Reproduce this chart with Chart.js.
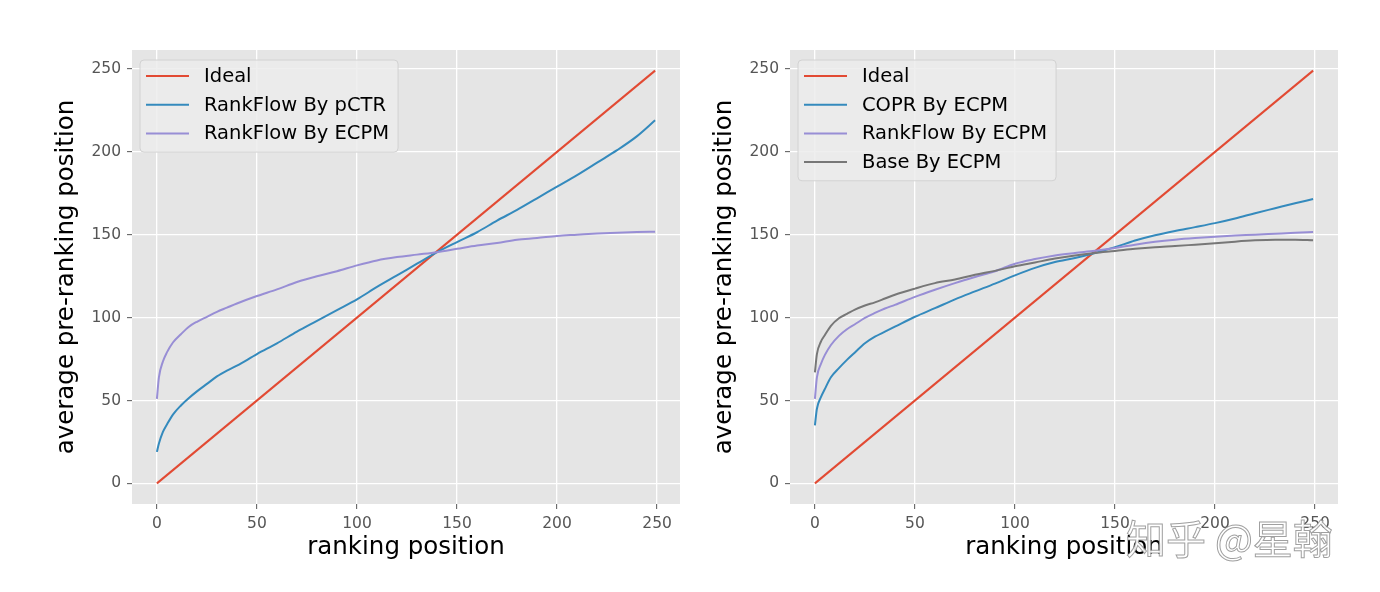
<!DOCTYPE html>
<html>
<head>
<meta charset="utf-8">
<script src="https://cdn.jsdelivr.net/npm/chart.js@4.4.1/dist/chart.umd.min.js"></script>
<style>
  html, body { margin: 0; padding: 0; background: #fff; }
  .wrap { position: relative; width: 1380px; height: 592px; overflow: hidden; }
  canvas { position: absolute; top: 0; }
  #leftChart { left: 0; }
  #rightChart { left: 690px; }
  .mark {
    position: absolute; left: 1126px; top: 508px;
    font: 40px "Noto Sans CJK SC", sans-serif;
    color: rgba(255,255,255,0.9);
    -webkit-text-stroke: 1px rgba(120,120,120,0.7);
    white-space: nowrap;
  }
</style>
</head>
<body>
<div class="wrap">
  <canvas id="leftChart" width="690" height="592"></canvas>
  <canvas id="rightChart" width="690" height="592"></canvas>
  <div class="mark">知乎 @星翰</div>
</div>
<script>
// data
const tickVals = [0, 50, 100, 150, 200, 250];
const ranks = [0, 1, 3, 5, 8, 12, 16, 20, 25, 30, 35, 40, 50, 60, 70, 80, 90, 100,
  110, 120, 130, 140, 150, 160, 170, 180, 190, 200, 210, 220, 230, 240, 249];
const idealRanks = [0, 249];
const idealVals = [0, 249];

// left panel
const rfCtrLeft = [19, 24, 31, 35.5, 41.5, 47, 51.5, 55.5, 60, 64.5, 68, 71, 78, 84.5, 91.5, 98, 104.5, 111,
  118.5, 125.5, 132.5, 139.5, 145.6, 151.5, 158.5, 165, 172, 179, 186, 193.5, 201, 209.5, 219];
const rfEcpmLeft = [51, 64, 73.5, 79, 85, 90, 94.5, 97.5, 100.5, 103.5, 106, 108.5, 113, 117, 121.5, 125, 128, 131.5,
  134.5, 136.5, 138, 139.5, 141.5, 143.5, 145, 147, 148, 149.3, 150, 150.7, 151.2, 151.6, 151.8];

// right panel
const coprEcpm = [35, 45, 52, 57, 64, 69.5, 74.5, 79, 84.5, 88.5, 91.5, 94.5, 100.5, 105.7, 111, 115.8, 120.5, 125.5,
  130, 133.5, 136, 139, 142.5, 146.5, 149.7, 152.3, 154.6, 157, 159.8, 163, 166, 169, 171.5];
const rfEcpmRight = [51, 64, 72, 77.5, 83.5, 89, 93, 96, 99.8, 102.8, 105.5, 107.7, 112.5, 116.8, 120.8, 124.5, 128, 132.5,
  135.3, 137.5, 139, 140.3, 142, 144, 145.7, 147, 148, 148.8, 149.5, 150, 150.6, 151.2, 151.6];
const baseEcpm = [67, 78, 85.5, 89.5, 95, 99.6, 102.2, 104.8, 107.3, 109.2, 111.5, 113.8, 117.5, 120.8, 123, 125.8, 128.2, 131,
  133.3, 135.6, 137.5, 139, 140.2, 141.5, 142.5, 143.2, 144, 144.8, 145.8, 146.6, 147, 147, 146.7];

const RED = '#E24A33', BLUE = '#348ABD', PURPLE = '#988ED5', GREY = '#777777';
const FONT = '"DejaVu Sans", sans-serif';

const toPts = (xs, ys) => xs.map((x, i) => ({ x: x, y: ys[i] }));

// grey panel, legend and axis titles
const panelPlugin = {
  id: 'panelPlugin',
  beforeDraw(chart) {
    const a = chart.chartArea;
    const ctx = chart.ctx;
    ctx.save();
    ctx.fillStyle = '#E5E5E5';
    ctx.fillRect(a.left, a.top, a.right - a.left, a.bottom - a.top);
    ctx.restore();
  },
  afterDraw(chart) {
    const a = chart.chartArea;
    const ctx = chart.ctx;
    const sets = chart.data.datasets;
    ctx.save();

    // legend
    ctx.font = '19.5px ' + FONT;
    let maxW = 0;
    sets.forEach(d => { maxW = Math.max(maxW, ctx.measureText(d.label).width); });
    const bx = a.left + 8, by = a.top + 10;
    const rowH = 28.7;
    const bw = 64 + maxW + 9;
    const bh = rowH * sets.length + 6;
    ctx.beginPath();
    ctx.roundRect(bx, by, bw, bh, 4);
    ctx.fillStyle = 'rgba(236,236,236,0.85)';
    ctx.fill();
    ctx.strokeStyle = '#D2D2D2';
    ctx.lineWidth = 1;
    ctx.stroke();
    ctx.textBaseline = 'middle';
    ctx.textAlign = 'left';
    sets.forEach((d, i) => {
      const y = by + 16 + i * rowH;
      ctx.beginPath();
      ctx.moveTo(bx + 6, y);
      ctx.lineTo(bx + 49, y);
      ctx.strokeStyle = d.borderColor;
      ctx.lineWidth = 2;
      ctx.stroke();
      ctx.fillStyle = '#000';
      ctx.fillText(d.label, bx + 64, y + 1);
    });

    // axis titles
    ctx.font = '24.5px ' + FONT;
    ctx.fillStyle = '#000';
    ctx.textAlign = 'center';
    ctx.fillText('ranking position', (a.left + a.right) / 2, 548);
    ctx.translate(a.left - 65, (a.top + a.bottom) / 2);
    ctx.rotate(-Math.PI / 2);
    ctx.fillText('average pre-ranking position', 0, 0);
    ctx.restore();
  }
};

const axisOpts = (fitFn) => ({
  type: 'linear',
  min: -12.45,
  max: 261.45,
  afterBuildTicks: s => { s.ticks = tickVals.map(v => ({ value: v })); },
  afterFit: fitFn,
  border: { display: false },
  grid: {
    color: '#FFFFFF',
    lineWidth: 1.3,
    drawTicks: true,
    tickColor: '#555555',
    tickLength: 5,
    tickWidth: 1
  },
  ticks: {
    color: '#555555',
    font: { family: FONT, size: 15.5 },
    padding: 6,
    maxRotation: 0,
    autoSkip: false
  }
});

const makeChart = (id, sets, yAxisWidth, rightPad) => {
  const ctx = document.getElementById(id).getContext('2d');
  new Chart(ctx, {
    type: 'line',
    data: {
      datasets: sets.map((s, i) => ({
        label: s.label,
        data: s.data,
        borderColor: s.color,
        backgroundColor: s.color,
        borderWidth: 2,
        pointRadius: 0,
        cubicInterpolationMode: 'monotone',
        fill: false,
        order: sets.length - i
      }))
    },
    options: {
      responsive: false,
      animation: false,
      devicePixelRatio: 1,
      layout: { padding: { top: 50, right: rightPad, left: 0, bottom: 0 } },
      scales: {
        x: axisOpts(s => { s.height = 88; }),
        y: axisOpts(s => { s.width = yAxisWidth; })
      },
      plugins: {
        legend: { display: false },
        tooltip: { enabled: false }
      }
    },
    plugins: [panelPlugin]
  });
};

document.addEventListener('DOMContentLoaded', () => {
  makeChart('leftChart', [
    { label: 'Ideal', data: toPts(idealRanks, idealVals), color: RED },
    { label: 'RankFlow By pCTR', data: toPts(ranks, rfCtrLeft), color: BLUE },
    { label: 'RankFlow By ECPM', data: toPts(ranks, rfEcpmLeft), color: PURPLE }
  ], 132, 10);

  makeChart('rightChart', [
    { label: 'Ideal', data: toPts(idealRanks, idealVals), color: RED },
    { label: 'COPR By ECPM', data: toPts(ranks, coprEcpm), color: BLUE },
    { label: 'RankFlow By ECPM', data: toPts(ranks, rfEcpmRight), color: PURPLE },
    { label: 'Base By ECPM', data: toPts(ranks, baseEcpm), color: GREY }
  ], 100, 42);
});
</script>
</body>
</html>
